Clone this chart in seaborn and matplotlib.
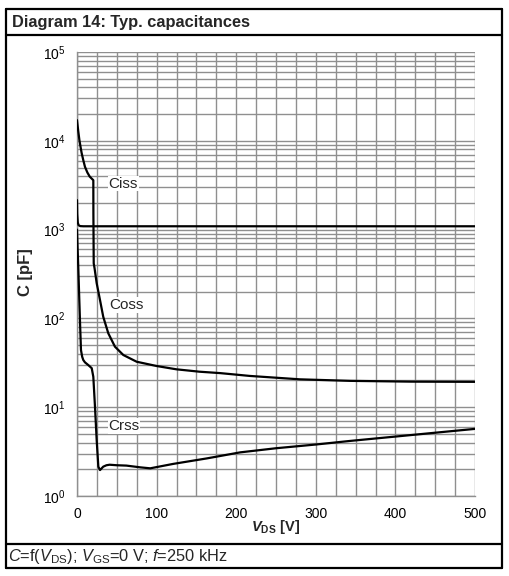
import matplotlib
matplotlib.use('Agg')
import numpy as np
import pandas as pd
import matplotlib.pyplot as plt
import seaborn as sns
from matplotlib.ticker import LogLocator, MultipleLocator, NullFormatter
from matplotlib.lines import Line2D

# -----------------------------
# DATA
# -----------------------------

ciss_v = [0, 0.3, 1, 2, 4, 8, 20, 50, 100, 200, 300, 400, 500]
ciss_c = [2150, 1500, 1200, 1120, 1095, 1090, 1090, 1090, 1090, 1090, 1090, 1090, 1090]

coss_v = [0, 1.5, 3, 4.5, 5.8, 8, 10, 13, 16, 18.5, 20.5, 20.6, 21, 22, 24.7, 28.9, 33,
          39.3, 47.7, 58.2, 75, 100, 125, 154, 180, 217, 280, 343, 420, 500]
coss_c = [17100, 13000, 10200, 8500, 7300, 6000, 5100, 4400, 3950, 3750, 3600, 1500, 417,
          370, 250, 161, 104, 68, 48, 38.7, 32.5, 29.1, 26.7, 25.1, 24.2, 22.5, 20.6, 19.8,
          19.4, 19.3]

crss_v = [0, 0.8, 1.6, 2.9, 4, 5, 6.5, 7.9, 10, 14.2, 18.5, 20.5, 22.6, 24.7, 26.8, 28.9,
          31, 33, 37, 41, 50, 62, 80, 92, 121, 163, 205, 250, 300, 343, 400, 450, 500]
crss_c = [1000, 600, 380, 161, 80, 44, 37, 34, 32, 29.8, 27.5, 22, 10.1, 4.3, 2.14, 1.96,
          2.05, 2.14, 2.22, 2.25, 2.22, 2.2, 2.1, 2.05, 2.3, 2.65, 3.1, 3.45, 3.8, 4.17, 4.67,
          5.16, 5.7]

curve_names = ['Ciss', 'Coss', 'Crss']
label_pos = [(58, 3300), (62, 141), (59, 6.1)]

x_ticks = [0, 100, 200, 300, 400, 500]

df = pd.concat([
    pd.DataFrame({'V': ciss_v, 'C': ciss_c, 'curve': 'Ciss'}),
    pd.DataFrame({'V': coss_v, 'C': coss_c, 'curve': 'Coss'}),
    pd.DataFrame({'V': crss_v, 'C': crss_c, 'curve': 'Crss'}),
], ignore_index=True)

# -----------------------------
# STYLE
# -----------------------------

sns.set_theme(style='white')
plt.rcParams['font.family'] = ['Liberation Sans', 'DejaVu Sans']
plt.rcParams['mathtext.fontset'] = 'custom'
plt.rcParams['mathtext.rm'] = 'Liberation Sans'
plt.rcParams['mathtext.it'] = 'Liberation Sans:italic'
plt.rcParams['mathtext.bf'] = 'Liberation Sans:bold'
plt.rcParams['mathtext.bfit'] = 'Liberation Sans:bold:italic'

fig = plt.figure(figsize=(5.09, 5.76), dpi=100)
W, H = 509, 576

ax = fig.add_axes([77 / W, 1 - 496 / H, 398 / W, 444 / H])

for name in curve_names:
    sub = df[df['curve'] == name]
    sns.lineplot(data=sub, x='V', y='C', ax=ax, color='black', linewidth=1.6,
                 estimator=None, sort=False, legend=False, zorder=5)

ax.set_yscale('log')
ax.set_xlim(0, 500)
ax.set_ylim(1, 1e5)

ax.xaxis.set_major_locator(MultipleLocator(100))
ax.xaxis.set_minor_locator(MultipleLocator(25))
ax.yaxis.set_major_locator(LogLocator(base=10))
ax.yaxis.set_minor_locator(LogLocator(base=10, subs=np.arange(2, 10)))
ax.yaxis.set_minor_formatter(NullFormatter())
ax.set_xticks(x_ticks)

ax.grid(True, which='both', color='#8f8f8f', linewidth=1.0)
ax.set_axisbelow(True)

for side in ['top', 'right']:
    ax.spines[side].set_visible(False)
for side in ['left', 'bottom']:
    ax.spines[side].set_color('#8f8f8f')
    ax.spines[side].set_linewidth(1.0)

ax.tick_params(axis='both', which='major', labelsize=10, colors='black',
               length=5, width=1.0, direction='out', pad=3)
ax.tick_params(axis='both', which='major', color='#8f8f8f')
ax.tick_params(axis='both', which='minor', length=0)

for name, (lx, ly) in zip(curve_names, label_pos):
    ax.text(lx, ly, name, ha='center', va='center', fontsize=11, zorder=6,
            bbox=dict(facecolor='white', edgecolor='none', pad=0.5))

ax.set_xlabel(r'$\boldsymbol{V}_{\mathbf{DS}}$ [V]', fontsize=10.5, fontweight='bold',
              labelpad=2)
ax.set_ylabel('C [pF]', fontsize=12, fontweight='bold')
ax.xaxis.set_label_coords((276 - 77) / 398, -(518 - 496) / 444)
ax.yaxis.set_label_coords(-(77 - 33) / 398, (496 - 272) / 444)

# -----------------------------
# OUTER FRAME AND CAPTIONS
# -----------------------------

def hline(y, x0=6, x1=502, lw=1.6):
    fig.add_artist(Line2D([x0 / W, x1 / W], [1 - y / H, 1 - y / H],
                          color='black', linewidth=lw))

def vline(x, y0=9, y1=568, lw=1.6):
    fig.add_artist(Line2D([x / W, x / W], [1 - y0 / H, 1 - y1 / H],
                          color='black', linewidth=lw))

hline(9)
hline(35)
hline(544)
hline(568)
vline(6)
vline(502)

fig.text(12 / W, 1 - 22 / H, 'Diagram 14: Typ. capacitances', fontsize=11.8,
         fontweight='bold', ha='left', va='center')
fig.text(8 / W, 1 - 556 / H,
         r'$\mathit{C}$=f($\mathit{V}_{\mathrm{DS}}$); $\mathit{V}_{\mathrm{GS}}$=0 V; '
         r'$\mathit{f}$=250 kHz', fontsize=11.8, ha='left', va='center')

plt.savefig('out.png', dpi=100)
plt.close()
